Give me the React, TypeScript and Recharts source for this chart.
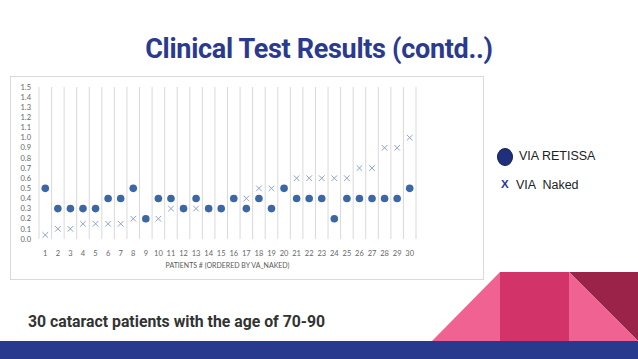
import { ComposedChart, Scatter, XAxis, YAxis, ReferenceLine } from "recharts";

const patients = [1, 2, 3, 4, 5, 6, 7, 8, 9, 10, 11, 12, 13, 14, 15, 16, 17, 18, 19, 20, 21, 22, 23, 24, 25, 26, 27, 28, 29, 30];
const viaRetissa = [0.5, 0.3, 0.3, 0.3, 0.3, 0.4, 0.4, 0.5, 0.2, 0.4, 0.4, 0.3, 0.4, 0.3, 0.3, 0.4, 0.3, 0.4, 0.3, 0.5, 0.4, 0.4, 0.4, 0.2, 0.4, 0.4, 0.4, 0.4, 0.4, 0.5];
const viaNaked = [0.04, 0.1, 0.1, 0.15, 0.15, 0.15, 0.15, 0.2, 0.2, 0.2, 0.3, 0.3, 0.3, 0.3, 0.3, 0.4, 0.4, 0.5, 0.5, 0.5, 0.6, 0.6, 0.6, 0.6, 0.6, 0.7, 0.7, 0.9, 0.9, 1.0];
const yTicks = [0, 0.1, 0.2, 0.3, 0.4, 0.5, 0.6, 0.7, 0.8, 0.9, 1.0, 1.1, 1.2, 1.3, 1.4, 1.5];
const bandEdges = [0.5, 1.5, 2.5, 3.5, 4.5, 5.5, 6.5, 7.5, 8.5, 9.5, 10.5, 11.5, 12.5, 13.5, 14.5, 15.5, 16.5, 17.5, 18.5, 19.5, 20.5, 21.5, 22.5, 23.5, 24.5, 25.5, 26.5, 27.5, 28.5, 29.5, 30.5];

const retissaData = patients.map((p, i) => ({ patient: p, value: viaRetissa[i] }));
const nakedData = patients.map((p, i) => ({ patient: p, value: viaNaked[i] }));

const Dot = (props: any) => {
  const { cx, cy } = props;
  if (cx == null || cy == null) return null;
  return <circle cx={cx} cy={cy} r={3.8} fill="#3c67a7" />;
};

const Cross = (props: any) => {
  const { cx, cy } = props;
  if (cx == null || cy == null) return null;
  const s = 2.8;
  return (
    <g stroke="#8da2cc" strokeWidth={1}>
      <line x1={cx - s} y1={cy - s} x2={cx + s} y2={cy + s} />
      <line x1={cx - s} y1={cy + s} x2={cx + s} y2={cy - s} />
    </g>
  );
};

const tickStyle = { fontSize: 7.5, fill: "#666", fontFamily: "Lato, 'DejaVu Sans', sans-serif" };

export default function App() {
  return (
    <div style={{ position: "absolute", left: 0, top: 0, width: 638, height: 359, background: "#fff", overflow: "hidden", fontFamily: "Roboto, sans-serif" }}>
      <div style={{ position: "absolute", left: 0, top: 34, width: 638, textAlign: "center", fontSize: 27, fontWeight: 700, color: "#2a3a8e", letterSpacing: -0.3, lineHeight: "30px" }}>
        Clinical Test Results (contd..)
      </div>

      <div style={{ position: "absolute", left: 10, top: 76, width: 472, height: 202, border: "1px solid #d9d9d9" }} />
      <div style={{ position: "absolute", left: 10, top: 76 }}>
        <ComposedChart width={474} height={203} margin={{ top: 11, right: 68, left: 0, bottom: 0 }}>
          <XAxis
            type="number"
            dataKey="patient"
            domain={[0.5, 30.5]}
            ticks={patients}
            interval={0}
            axisLine={false}
            tickLine={false}
            tick={tickStyle}
            height={40}
            tickMargin={6}
            label={{ value: "PATIENTS # (ORDERED BY VA_NAKED)", position: "insideBottom", offset: 11, style: { fontSize: 7, fill: "#595959", fontFamily: "Lato, sans-serif" } }}
          />
          <YAxis
            type="number"
            domain={[0, 1.5]}
            ticks={yTicks}
            interval={0}
            axisLine={false}
            tickLine={false}
            width={29}
            tick={{ ...tickStyle, textAnchor: "end" }}
            tickFormatter={(v: number) => v.toFixed(1)}
          />
          {bandEdges.map((x) => (
            <ReferenceLine key={x} x={x} stroke="#d9d9d9" strokeWidth={1} />
          ))}
          <Scatter data={nakedData} dataKey="value" shape={<Cross />} isAnimationActive={false} />
          <Scatter data={retissaData} dataKey="value" shape={<Dot />} isAnimationActive={false} />
        </ComposedChart>
      </div>

      <div style={{ position: "absolute", left: 497, top: 148, width: 16, height: 18, borderRadius: "50%", background: "#1f2f7c", border: "1px solid #14205a", boxSizing: "border-box" }} />
      <div style={{ position: "absolute", left: 519, top: 149, fontSize: 12.5, color: "#222", fontFamily: "'Liberation Sans', Arial, sans-serif" }}>VIA RETISSA</div>
      <div style={{ position: "absolute", left: 501, top: 178, fontSize: 11.5, fontWeight: 700, color: "#2b3990", fontFamily: "'Liberation Sans', Arial, sans-serif" }}>X</div>
      <div style={{ position: "absolute", left: 516, top: 178, fontSize: 12.5, color: "#222", fontFamily: "'Liberation Sans', Arial, sans-serif", whiteSpace: "pre" }}>VIA  Naked</div>

      <div style={{ position: "absolute", left: 28, top: 312, fontSize: 15.8, fontWeight: 700, color: "#333" }}>
        30 cataract patients with the age of 70-90
      </div>

      <svg style={{ position: "absolute", left: 0, top: 0 }} width={638} height={359}>
        <polygon points="432,341 500,272 500,341" fill="#f06292" />
        <rect x={500} y={272} width={69} height={69} fill="#d23369" />
        <polygon points="569,272 638,272 638,341" fill="#9b2349" />
        <polygon points="569,272 638,341 569,341" fill="#f06292" />
        <rect x={0} y={341} width={638} height={18} fill="#283a8e" />
      </svg>
    </div>
  );
}
